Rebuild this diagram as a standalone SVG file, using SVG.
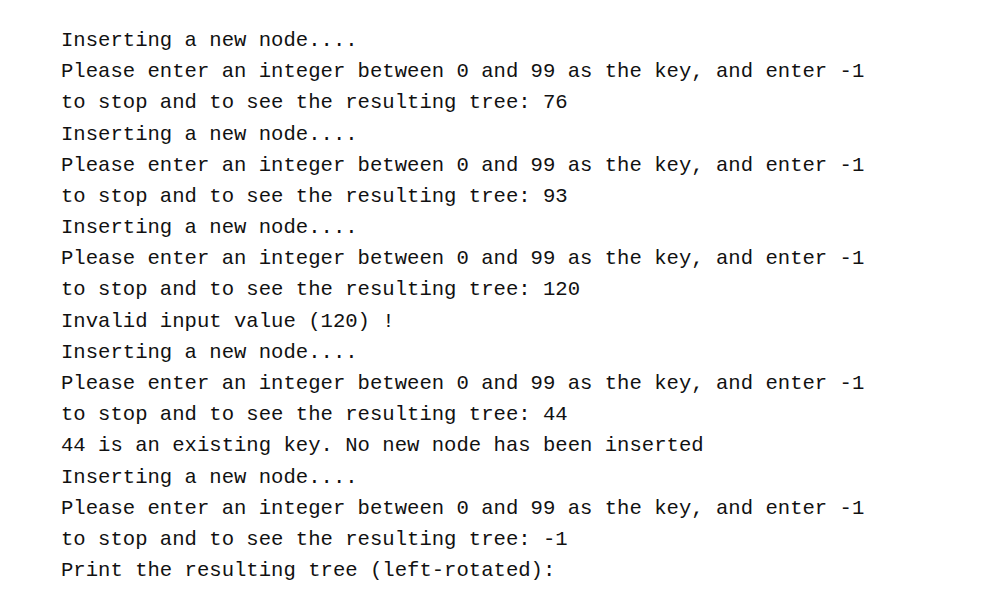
<svg xmlns="http://www.w3.org/2000/svg" width="981" height="591" viewBox="0 0 981 591">
<style>text{font-family:"Liberation Mono","DejaVu Sans Mono",monospace;font-size:20.6px;fill:#111;}</style>
<rect width="981" height="591" fill="#fff"/>
<g id="console">
<text x="61" y="46">Inserting a new node....</text>
<text x="61" y="77.2">Please enter an integer between 0 and 99 as the key, and enter -1</text>
<text x="61" y="108.4">to stop and to see the resulting tree: 76</text>
<text x="61" y="139.5">Inserting a new node....</text>
<text x="61" y="170.7">Please enter an integer between 0 and 99 as the key, and enter -1</text>
<text x="61" y="201.9">to stop and to see the resulting tree: 93</text>
<text x="61" y="233.1">Inserting a new node....</text>
<text x="61" y="264.3">Please enter an integer between 0 and 99 as the key, and enter -1</text>
<text x="61" y="295.4">to stop and to see the resulting tree: 120</text>
<text x="61" y="326.6">Invalid input value (120) !</text>
<text x="61" y="357.8">Inserting a new node....</text>
<text x="61" y="389">Please enter an integer between 0 and 99 as the key, and enter -1</text>
<text x="61" y="420.2">to stop and to see the resulting tree: 44</text>
<text x="61" y="451.3">44 is an existing key. No new node has been inserted</text>
<text x="61" y="482.5">Inserting a new node....</text>
<text x="61" y="513.7">Please enter an integer between 0 and 99 as the key, and enter -1</text>
<text x="61" y="544.9">to stop and to see the resulting tree: -1</text>
<text x="61" y="576">Print the resulting tree (left-rotated):</text>
</g>
</svg>
